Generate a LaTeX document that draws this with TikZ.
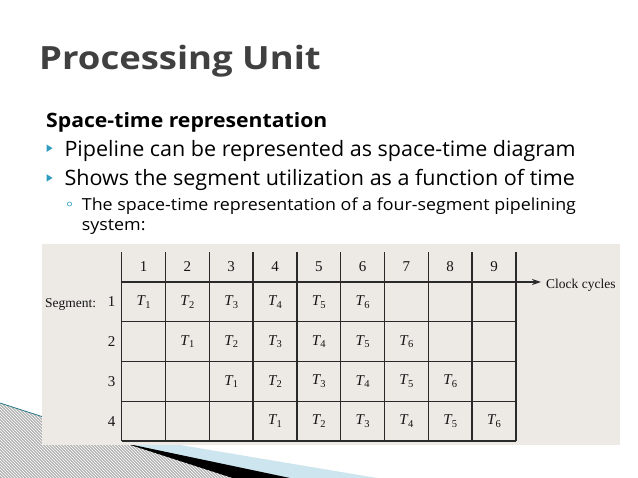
\documentclass[tikz,border=0pt]{standalone}
\usepackage{fontspec}
\setmainfont{Open Sans}
\newfontfamily\tabfont{Liberation Serif}
\usetikzlibrary{arrows.meta,patterns}
\definecolor{titlegray}{HTML}{404040}
\definecolor{bullteal}{HTML}{2E9CC0}
\definecolor{scanbg}{HTML}{EDEAE6}
\definecolor{gridcol}{HTML}{2A2A2A}
\definecolor{hatchgray}{HTML}{B4B4B4}
\definecolor{stripeblue}{HTML}{CDE5EE}
\definecolor{edgeteal}{HTML}{2B7C8C}
\newcommand{\Tsub}[1]{\textit{T}\kern-0.04em\raisebox{-0.4ex}{\fontsize{10.5}{10.5}\selectfont #1}}
\newcommand{\wide}[2]{\scalebox{#1}[1]{#2}}
\begin{document}
\begin{tikzpicture}[x=1pt,y=-1pt,
  titletxt/.style={anchor=base west,inner sep=0pt,text=titlegray,font=\fontsize{32}{38}\selectfont\bfseries},
  headtxt/.style={anchor=base west,inner sep=0pt,text=black,font=\fontsize{19.8}{24}\selectfont\bfseries},
  bodytxt/.style={anchor=base west,inner sep=0pt,text=black,font=\fontsize{21.2}{25}\selectfont},
  subtxt/.style={anchor=base west,inner sep=0pt,text=black,font=\fontsize{16.6}{20}\selectfont},
  tabtxt/.style={inner sep=0pt,text=black!92,font=\tabfont\fontsize{13.5}{16}\selectfont},
  celltxt/.style={inner sep=0pt,text=black!92,font=\tabfont\fontsize{15}{17}\selectfont},
  gridline/.style={draw=gridcol,line width=1.4pt},
  bullettri/.style={fill=bullteal},
  bulletcirc/.style={draw=bullteal,line width=0.6pt}]
\useasboundingbox (0,0) rectangle (638,478);
\fill[white] (0,0) rectangle (638,478);

% corner decoration
\fill[stripeblue] (0,414.8) -- (377,478) -- (0,478) -- cycle;
\fill[black] (0,417) -- (290,478) -- (0,478) -- cycle;
\fill[hatchgray] (0,403) -- (232,478) -- (0,478) -- cycle;
\fill[pattern=north west lines,pattern color=white] (0,403) -- (232,478) -- (0,478) -- cycle;
\draw[edgeteal,line width=0.8pt] (0,403) -- (60,422.4);

% scanned figure background
\fill[scanbg] (42,244) rectangle (620,445);

% texts
\node[titletxt] (title) at (39,69.5) {\wide{1.14}{Processing Unit}};
\node[headtxt] (head) at (46,127.3) {\wide{1.07}{Space-time representation}};
\node[bodytxt] (b1) at (64.3,156.7) {\wide{1.015}{Pipeline can be represented as space-time diagram}};
\node[bodytxt] (b2) at (64.3,186) {\wide{1.015}{Shows the segment utilization as a function of time}};
\node[subtxt] (s1) at (81.7,210.7) {\wide{1.075}{The space-time representation of a four-segment pipelining}};
\node[subtxt] (s2) at (81.7,230.5) {\wide{1.075}{system:}};
\fill[bullettri] (46.5,144.5) -- (52.5,148.2) -- (46.5,152) -- cycle;
\fill[bullettri] (46.5,174.2) -- (52.5,177.9) -- (46.5,181.7) -- cycle;
\draw[bulletcirc] (69.5,204) circle (2.1);

% grid
\foreach \i in {0,...,9}
  \draw[gridline] (121.7+43.8*\i,252.5) -- (121.7+43.8*\i,441.5);
\foreach \k in {1,...,4}
  \draw[gridline] (121.7,282+39.8*\k) -- (515.9,282+39.8*\k);
\coordinate (arrstart) at (121.7,282);
\coordinate (arrend) at (541,282);
\draw[gridline,-{Stealth[length=9pt,width=6pt]}] (arrstart) -- (arrend);
\node[tabtxt,anchor=west] (clk) at (546,285) {Clock cycles};

% column numbers
\foreach \c in {1,...,9}
  \node[celltxt] (h\c) at (121.7+43.8*\c-21.9,266.5) {\c};
% segment labels
\node[tabtxt,anchor=base west] (seg) at (45,308) {Segment:};
\foreach \r in {1,...,4}
  \node[celltxt] (r\r) at (111.5,282+39.8*\r-19.9) {\r};
% cells
\foreach \r in {1,...,4}
  \foreach \c in {1,...,9}{
    \pgfmathtruncatemacro{\t}{\c-\r+1}
    \ifnum\t>0 \ifnum\t<7
      \node[celltxt] (c\r-\c) at (121.7+43.8*\c-21.9,282+39.8*\r-19.9) {\Tsub{\t}};
    \fi\fi
  }
\end{tikzpicture}
\end{document}
